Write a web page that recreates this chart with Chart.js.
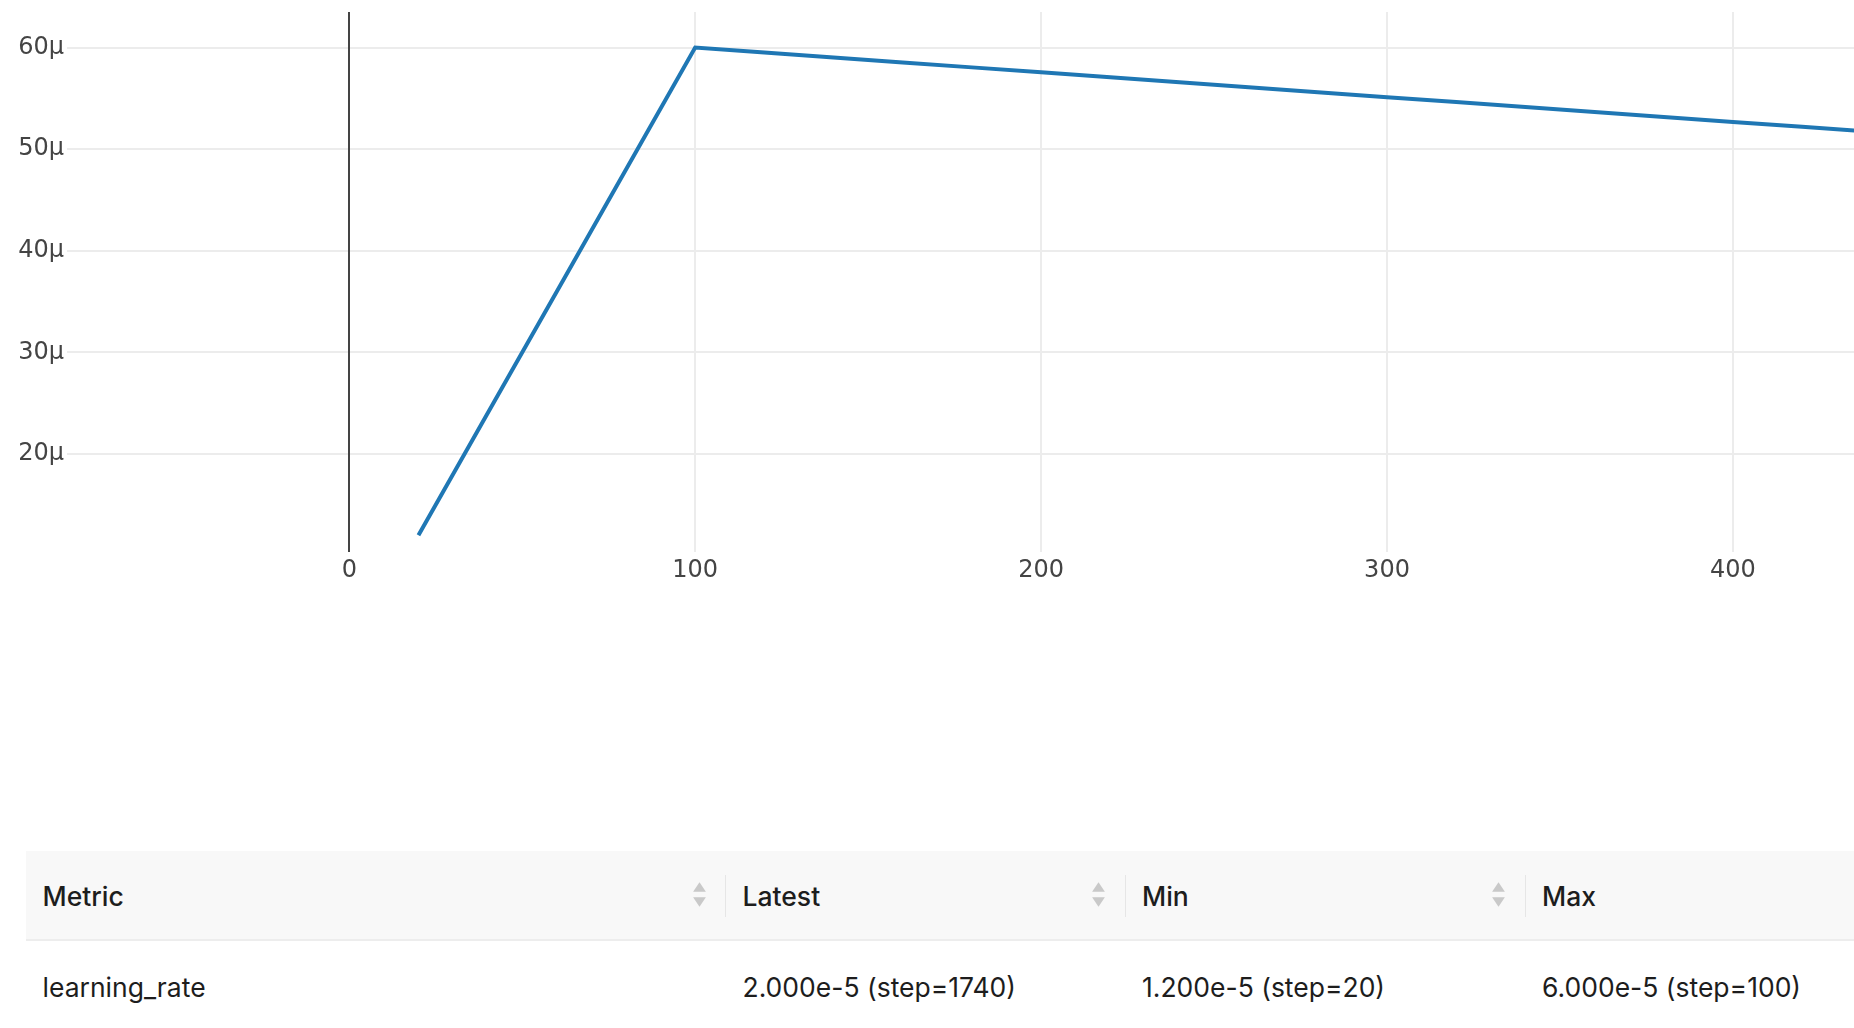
<!DOCTYPE html>
<html>
<head>
<meta charset="utf-8">
<title>learning_rate</title>
<script src="https://cdn.jsdelivr.net/npm/chart.js@4.4.1/dist/chart.umd.min.js"></script>
<style>
    html, body { margin: 0; padding: 0; background: #fff; }
    body { width: 1854px; height: 1028px; overflow: hidden; position: relative; font-family: Inter, "Noto Sans", sans-serif; color: #1f1f1f; }
    #chart-wrap { position: absolute; left: 0; top: 0; width: 1854px; height: 600px; }
    .metrics-table { position: absolute; left: 26px; top: 851px; right: 0; height: 177px; }
    .thead { position: absolute; left: 0; right: 0; top: 0; height: 88px; background: #f8f8f8; border-bottom: 2px solid #ededed; }
    .th, .td { position: absolute; font-size: 26.5px; white-space: nowrap; line-height: 30px; }
    .th { top: 30px; font-weight: 500; color: #1d1d1d; }
    .td { top: 121px; font-weight: 400; color: #1d1d1d; }
    .sep { position: absolute; top: 24px; width: 1px; height: 42px; background: #e6e6e6; }
    .sort { position: absolute; top: 28px; width: 15px; height: 32px; }
</style>
</head>
<body>
<div id="chart-wrap"><canvas id="lr-chart" width="1854" height="600"></canvas></div>
<div class="metrics-table" id="metrics-table"></div>

<script>
// step values (x) and learning rate in micro units (y)
const steps = [20, 40, 60, 80, 100, 120, 140, 160, 180, 200, 220, 240, 260, 280, 300, 320, 340, 360, 380, 400, 420, 440, 460];
const lrMicro = [12, 24, 36, 48, 60, 59.51, 59.02, 58.54, 58.05, 57.56, 57.07, 56.59, 56.10, 55.61, 55.12, 54.63, 54.15, 53.66, 53.17, 52.68, 52.20, 51.71, 51.22];

const xTicks = [0, 100, 200, 300, 400];
const yTicks = [20, 30, 40, 50, 60];

// summary table
const columns = ['Metric', 'Latest', 'Min', 'Max'];
const rowValues = ['learning_rate', '2.000e-5 (step=1740)', '1.200e-5 (step=20)', '6.000e-5 (step=100)'];

const TICK_FONT = { family: '"DejaVu Sans", Verdana, sans-serif', size: 24 };
const GRID = '#ececec';

new Chart(document.getElementById('lr-chart'), {
    type: 'line',
    data: {
        datasets: [{
            label: 'learning_rate',
            data: steps.map((s, i) => ({ x: s, y: lrMicro[i] })),
            borderColor: '#1f77b4',
            borderWidth: 4,
            pointRadius: 0,
            tension: 0,
            fill: false,
        }]
    },
    options: {
        responsive: false,
        animation: false,
        layout: { padding: { top: 12, left: 0, right: 0, bottom: 0 } },
        plugins: { legend: { display: false }, tooltip: { enabled: false } },
        scales: {
            x: {
                type: 'linear',
                min: -81.6,
                max: 435,
                afterBuildTicks: s => { s.ticks = xTicks.map(v => ({ value: v })); },
                afterFit: s => { s.height = 48; s.paddingLeft = 0; s.paddingRight = 0; },
                border: { display: false },
                grid: {
                    drawTicks: false,
                    z: -1,
                    color: c => (c.tick && c.tick.value === 0 ? '#444' : GRID),
                    lineWidth: 2,
                },
                ticks: { font: TICK_FONT, color: '#444', padding: 4, maxRotation: 0 },
            },
            y: {
                type: 'linear',
                min: 10.35,
                max: 63.5,
                afterBuildTicks: s => { s.ticks = yTicks.map(v => ({ value: v })); },
                afterFit: s => { s.width = 67; s.paddingTop = 0; s.paddingBottom = 0; },
                border: { display: false },
                grid: { drawTicks: false, z: -2, color: GRID, lineWidth: 2 },
                ticks: { font: TICK_FONT, color: '#444', padding: 3, callback: v => v + 'μ' },
            }
        }
    }
});

// table
const colLeft = [16.5, 716.5, 1116, 1516];
const sepLeft = [699, 1098.5, 1499];
const sortLeft = [665.5, 1064.5, 1464.5];

const SORT_ICON = '<svg class="sort" style="left:LEFTpx" viewBox="0 0 14 30"><polygon points="7,3 13,12 1,12" fill="#c9c9c9"/><polygon points="1,17 13,17 7,26" fill="#c9c9c9"/></svg>';

const table = document.getElementById('metrics-table');
table.innerHTML = `
    <div class="thead">
        ${columns.map((c, i) => `<div class="th" style="left:${colLeft[i]}px">${c}</div>`).join('')}
        ${sepLeft.map(x => `<div class="sep" style="left:${x}px"></div>`).join('')}
        ${sortLeft.map(x => SORT_ICON.replace('LEFT', x)).join('')}
    </div>
    ${rowValues.map((v, i) => `<div class="td" style="left:${colLeft[i]}px">${v}</div>`).join('')}
`;
</script>
</body>
</html>
